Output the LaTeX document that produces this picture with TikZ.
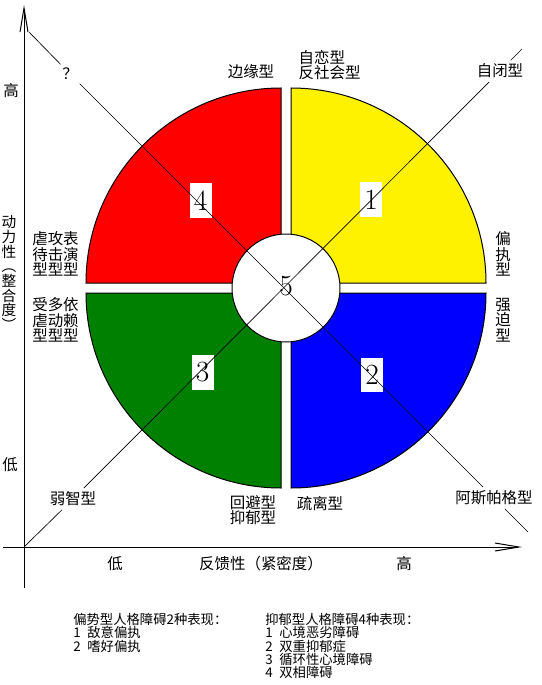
\documentclass[tikz,border=0pt]{standalone}
\usepackage{fontspec}
\usepackage{tikz}
\usetikzlibrary{arrows.meta, positioning}
\newfontfamily\cjk{Noto Sans CJK SC}
\definecolor{quadred}{RGB}{255, 0, 0}
\definecolor{quadyellow}{RGB}{255, 242, 0}
\definecolor{quadblue}{RGB}{0, 0, 255}
\definecolor{quadgreen}{RGB}{0, 128, 0}

\begin{document}
\begin{tikzpicture}[x=0.75pt, y=-0.75pt, > = {Straight Barb[length=18pt,width=6pt]},
	lbl/.style={font=\cjk\fontsize{11.6pt}{11.6pt}\selectfont, inner sep=2.6pt, align=center},
	notes/.style={font=\cjk\fontsize{10pt}{10pt}\selectfont, inner sep=0pt, align=left, anchor=north west},
	numbox/.style={fill=white, font=\fontsize{22pt}{22pt}\selectfont, minimum width=16.5pt, minimum height=26pt, inner sep=0pt},
	quad/.style={draw=black, line width=0.75pt}]
	\useasboundingbox (0,0) rectangle (542,685);

	% four quarters
	\filldraw[quad, fill=quadred] (281,283) -- (86,283) arc[start angle=180, end angle=270, radius=195] -- cycle;
	\filldraw[quad, fill=quadyellow] (291,283) -- (291,88) arc[start angle=270, end angle=360, radius=195] -- cycle;
	\filldraw[quad, fill=quadblue] (291,293) -- (486,293) arc[start angle=0, end angle=90, radius=195] -- cycle;
	\filldraw[quad, fill=quadgreen] (281,293) -- (281,488) arc[start angle=90, end angle=180, radius=195] -- cycle;
	\node[circle, draw, fill=white, line width=0.75pt, minimum size=81pt, inner sep=0pt] (core) at (286,288) {};

	\node[numbox] (q1) at (371,199.5) {1};
	\node[numbox] (q2) at (372,375) {2};
	\node[numbox] (q3) at (202.5,372.5) {3};
	\node[numbox] (q4) at (200.5,200.5) {4};

	% types round the circle
	\node[lbl] (bianyuan) at (251,72) {边缘型};
	\node[lbl, align=left, anchor=west] (zilian) at (295,65) {自恋型\\反社会型};
	\node[lbl] (zibi) at (500,71) {自闭型};
	\node[lbl] (wenhao) at (70,74) {？};
	\node[lbl] (biaoyan) at (55.5,254) {虐攻表\\待击演\\型型型};
	\node[lbl] (yilai) at (55.5,320) {受多依\\虐动赖\\型型型};
	\node[lbl] (pianzhi) at (503,254) {偏\\执\\型};
	\node[lbl] (qiangpo) at (503,320) {强\\迫\\型};
	\node[lbl] (ruozhi) at (73,499) {弱智型};
	\node[lbl] (huibi) at (253,510) {回避型\\抑郁型};
	\node[lbl] (shuli) at (320,504) {疏离型};
	\node[lbl] (asperger) at (494,498) {阿斯帕格型};

	% diagonals
	\coordinate (O) at (24,547);
	\coordinate (mainend) at (522,49);
	\coordinate (antistart) at (29,32);
	\coordinate (antiend) at (528,532);
	\draw[line width=0.5pt] (O) -- (ruozhi) (ruozhi) -- (zibi) (zibi) -- (mainend);
	\draw[line width=0.5pt] (antistart) -- (wenhao) (wenhao) -- (asperger) (asperger) -- (antiend);
	\node[font=\fontsize{22pt}{22pt}\selectfont, inner sep=0pt] (five) at (286,286) {5};

	% coordinate axes
	\coordinate (ytop) at (24,5);
	\coordinate (ybot) at (24,588);
	\coordinate (xleft) at (3,547);
	\coordinate (xright) at (522,547);
	\draw[->, line width=0.75pt] (ybot) -- (ytop);
	\draw[->, line width=0.75pt] (xleft) -- (xright);

	\node[lbl] (ygao) at (11,91) {高};
	\node[lbl, font=\cjk\fontsize{11pt}{11pt}\selectfont] (ytitle) at (9,273) {动\\力\\性\\︵\\整\\合\\度\\︶};
	\node[lbl] (ydi) at (10,465) {低};
	\node[lbl] (xdi) at (115,564) {低};
	\node[lbl] (xtitle) at (261,564) {反馈性（紧密度）};
	\node[lbl] (xgao) at (404,564) {高};

	\node[notes] (noteA) at (73,613) {偏势型人格障碍2种表现：\\1\enspace 敌意偏执\\2\enspace 嗜好偏执};
	\node[notes] (noteB) at (265,613) {抑郁型人格障碍4种表现：\\1\enspace 心境恶劣障碍\\2\enspace 双重抑郁症\\3\enspace 循环性心境障碍\\4\enspace 双相障碍};
\end{tikzpicture}
\end{document}
